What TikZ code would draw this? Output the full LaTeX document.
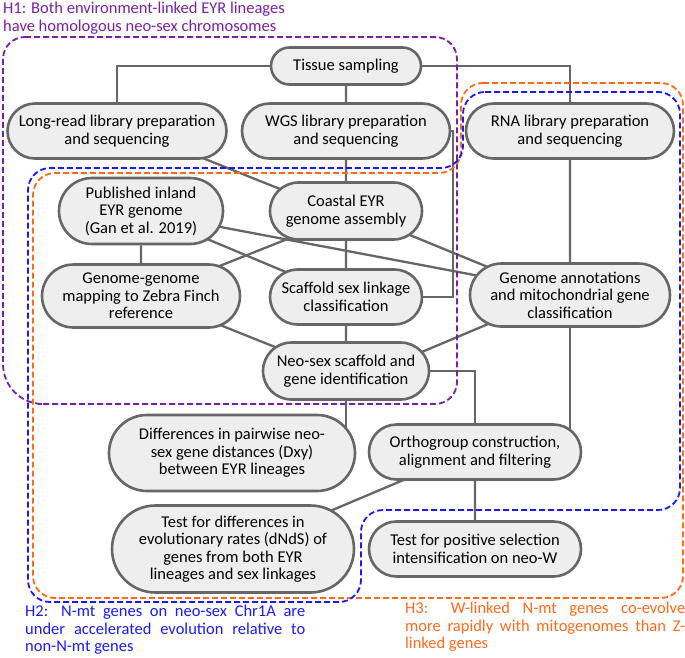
\documentclass[tikz,border=0pt]{standalone}
\usepackage{fontspec}
\setmainfont{Carlito}
\usetikzlibrary{shapes.misc,calc,backgrounds}
\definecolor{boxfill}{HTML}{EEEEEE}
\definecolor{edgegray}{HTML}{666666}
\definecolor{hpurple}{HTML}{7B1FA2}
\definecolor{hblue}{HTML}{1A1AF0}
\definecolor{horange}{HTML}{FF6A1A}
\begin{document}
\begin{tikzpicture}[x=1pt,y=-1pt,
  box/.style={rounded rectangle, draw=edgegray, line width=2.6pt, fill=boxfill, align=center,
    font=\fontsize{16.5}{17.5}\selectfont, inner sep=0pt},
  conn/.style={draw=edgegray, line width=2.3pt},
  region/.style={line width=1.8pt, dash pattern=on 6pt off 3pt, rounded corners=22pt},
  lab/.style={font=\fontsize{16.5}{17.5}\selectfont, align=justify, anchor=north west, inner sep=0pt}]
\useasboundingbox (0,0) rectangle (685,658);
% regions
\draw[region, hpurple] (3,37) -- (457,37) -- (457,404) -- (60,404) [rounded corners=40pt] -- (3,404) [rounded corners=22pt] -- cycle;
\draw[region, horange] (461,83) -- (683,83) -- (683,598) -- (33,598) -- (33,173) -- (461,173) -- cycle;
\draw[region, hblue] (463,92) -- (680,92) -- (680,510) -- (361,510) -- (361,602) -- (28,602) -- (28,168) -- (463,168) -- cycle;
% nodes
\node[box, minimum width=150pt, minimum height=37pt] (tissue) at (346,66) {Tissue sampling};
\node[box, minimum width=219pt, minimum height=55pt] (long) at (117,131) {Long-read library preparation\\and sequencing};
\node[box, minimum width=208pt, minimum height=55pt] (wgs) at (346,131) {WGS library preparation\\and sequencing};
\node[box, minimum width=208pt, minimum height=55pt] (rna) at (570,131) {RNA library preparation\\and sequencing};
\node[box, minimum width=164pt, minimum height=66pt] (pub) at (141,211) {Published inland\\EYR genome\\(Gan et al. 2019)};
\node[box, minimum width=152pt, minimum height=57pt] (coast) at (346,211) {Coastal EYR\\genome assembly};
\node[box, minimum width=198pt, minimum height=63pt] (gg) at (141,296) {Genome-genome\\mapping to Zebra Finch\\reference};
\node[box, minimum width=152pt, minimum height=55pt] (scaf) at (346,297) {Scaffold sex linkage\\classification};
\node[box, minimum width=200pt, minimum height=63pt] (annot) at (570,295) {Genome annotations\\and mitochondrial gene\\classification};
\node[box, minimum width=166pt, minimum height=57pt] (neo) at (346,371) {Neo-sex scaffold and\\gene identification};
\node[box, minimum width=246pt, minimum height=76pt] (diff) at (232,453) {Differences in pairwise neo-\\sex gene distances (Dxy)\\between EYR lineages};
\node[box, minimum width=212pt, minimum height=55pt] (ortho) at (475,452) {Orthogroup construction,\\alignment and filtering};
\node[box, minimum width=242pt, minimum height=87pt] (dnds) at (233,549) {Test for differences in\\evolutionary rates (dNdS) of\\genes from both EYR\\lineages and sex linkages};
\node[box, minimum width=212pt, minimum height=55pt] (pos) at (475,549) {Test for positive selection\\intensification on neo-W};
% connectors
\begin{pgfonlayer}{background}
\draw[conn] (tissue.west) -| (long.north);
\draw[conn] (tissue.east) -| (rna.north);
\draw[conn] (tissue) -- (wgs);
\draw[conn] ($(long)+(73,22)$) -- ($(coast)+(-46,-14)$);
\draw[conn] (wgs) -- (coast);
\draw[conn] (wgs.east) -- ++(2pt,0) |- (scaf.east);
\draw[conn] (pub) -- (gg);
\draw[conn] ($(pub)+(59,25)$) -- ($(scaf)+(-46,-19)$);
\draw[conn] ($(pub)+(69,14)$) -- ($(annot)+(-80,-17)$);
\draw[conn] ($(coast)+(-46,23)$) -- ($(gg)+(66,-25)$);
\draw[conn] (coast) -- (scaf);
\draw[conn] ($(coast)+(54,20)$) -- ($(annot)+(-70,-23)$);
\draw[conn] ($(gg)+(69,25)$) -- ($(neo)+(-56,-18)$);
\draw[conn] (scaf) -- (neo);
\draw[conn] ($(annot)+(-70,24)$) -- ($(neo)+(64,-14)$);
\draw[conn] (rna) -- (annot);
\draw[conn] (annot) -- (570,440);
\draw[conn] (neo.east) -| (ortho.north);
\draw[conn] (neo) -- (346,440);
\draw[conn] ($(ortho)+(-62,24)$) -- ($(dnds)+(90,-35)$);
\draw[conn] (ortho) -- (pos);
\end{pgfonlayer}
% labels
\node[lab, text=hpurple, align=left] (h1) at (3,2) {H1: Both environment-linked EYR lineages\\have homologous neo-sex chromosomes};
\node[lab, text=hblue, text width=280pt] (h2) at (25,605) {H2: N-mt genes on neo-sex Chr1A are\linebreak under accelerated evolution relative to\linebreak non-N-mt genes};
\node[lab, text=horange, text width=280pt] (h3) at (405,602) {H3: W-linked N-mt genes co-evolve\linebreak more rapidly with mitogenomes than Z-\linebreak linked genes};
\end{tikzpicture}
\end{document}
